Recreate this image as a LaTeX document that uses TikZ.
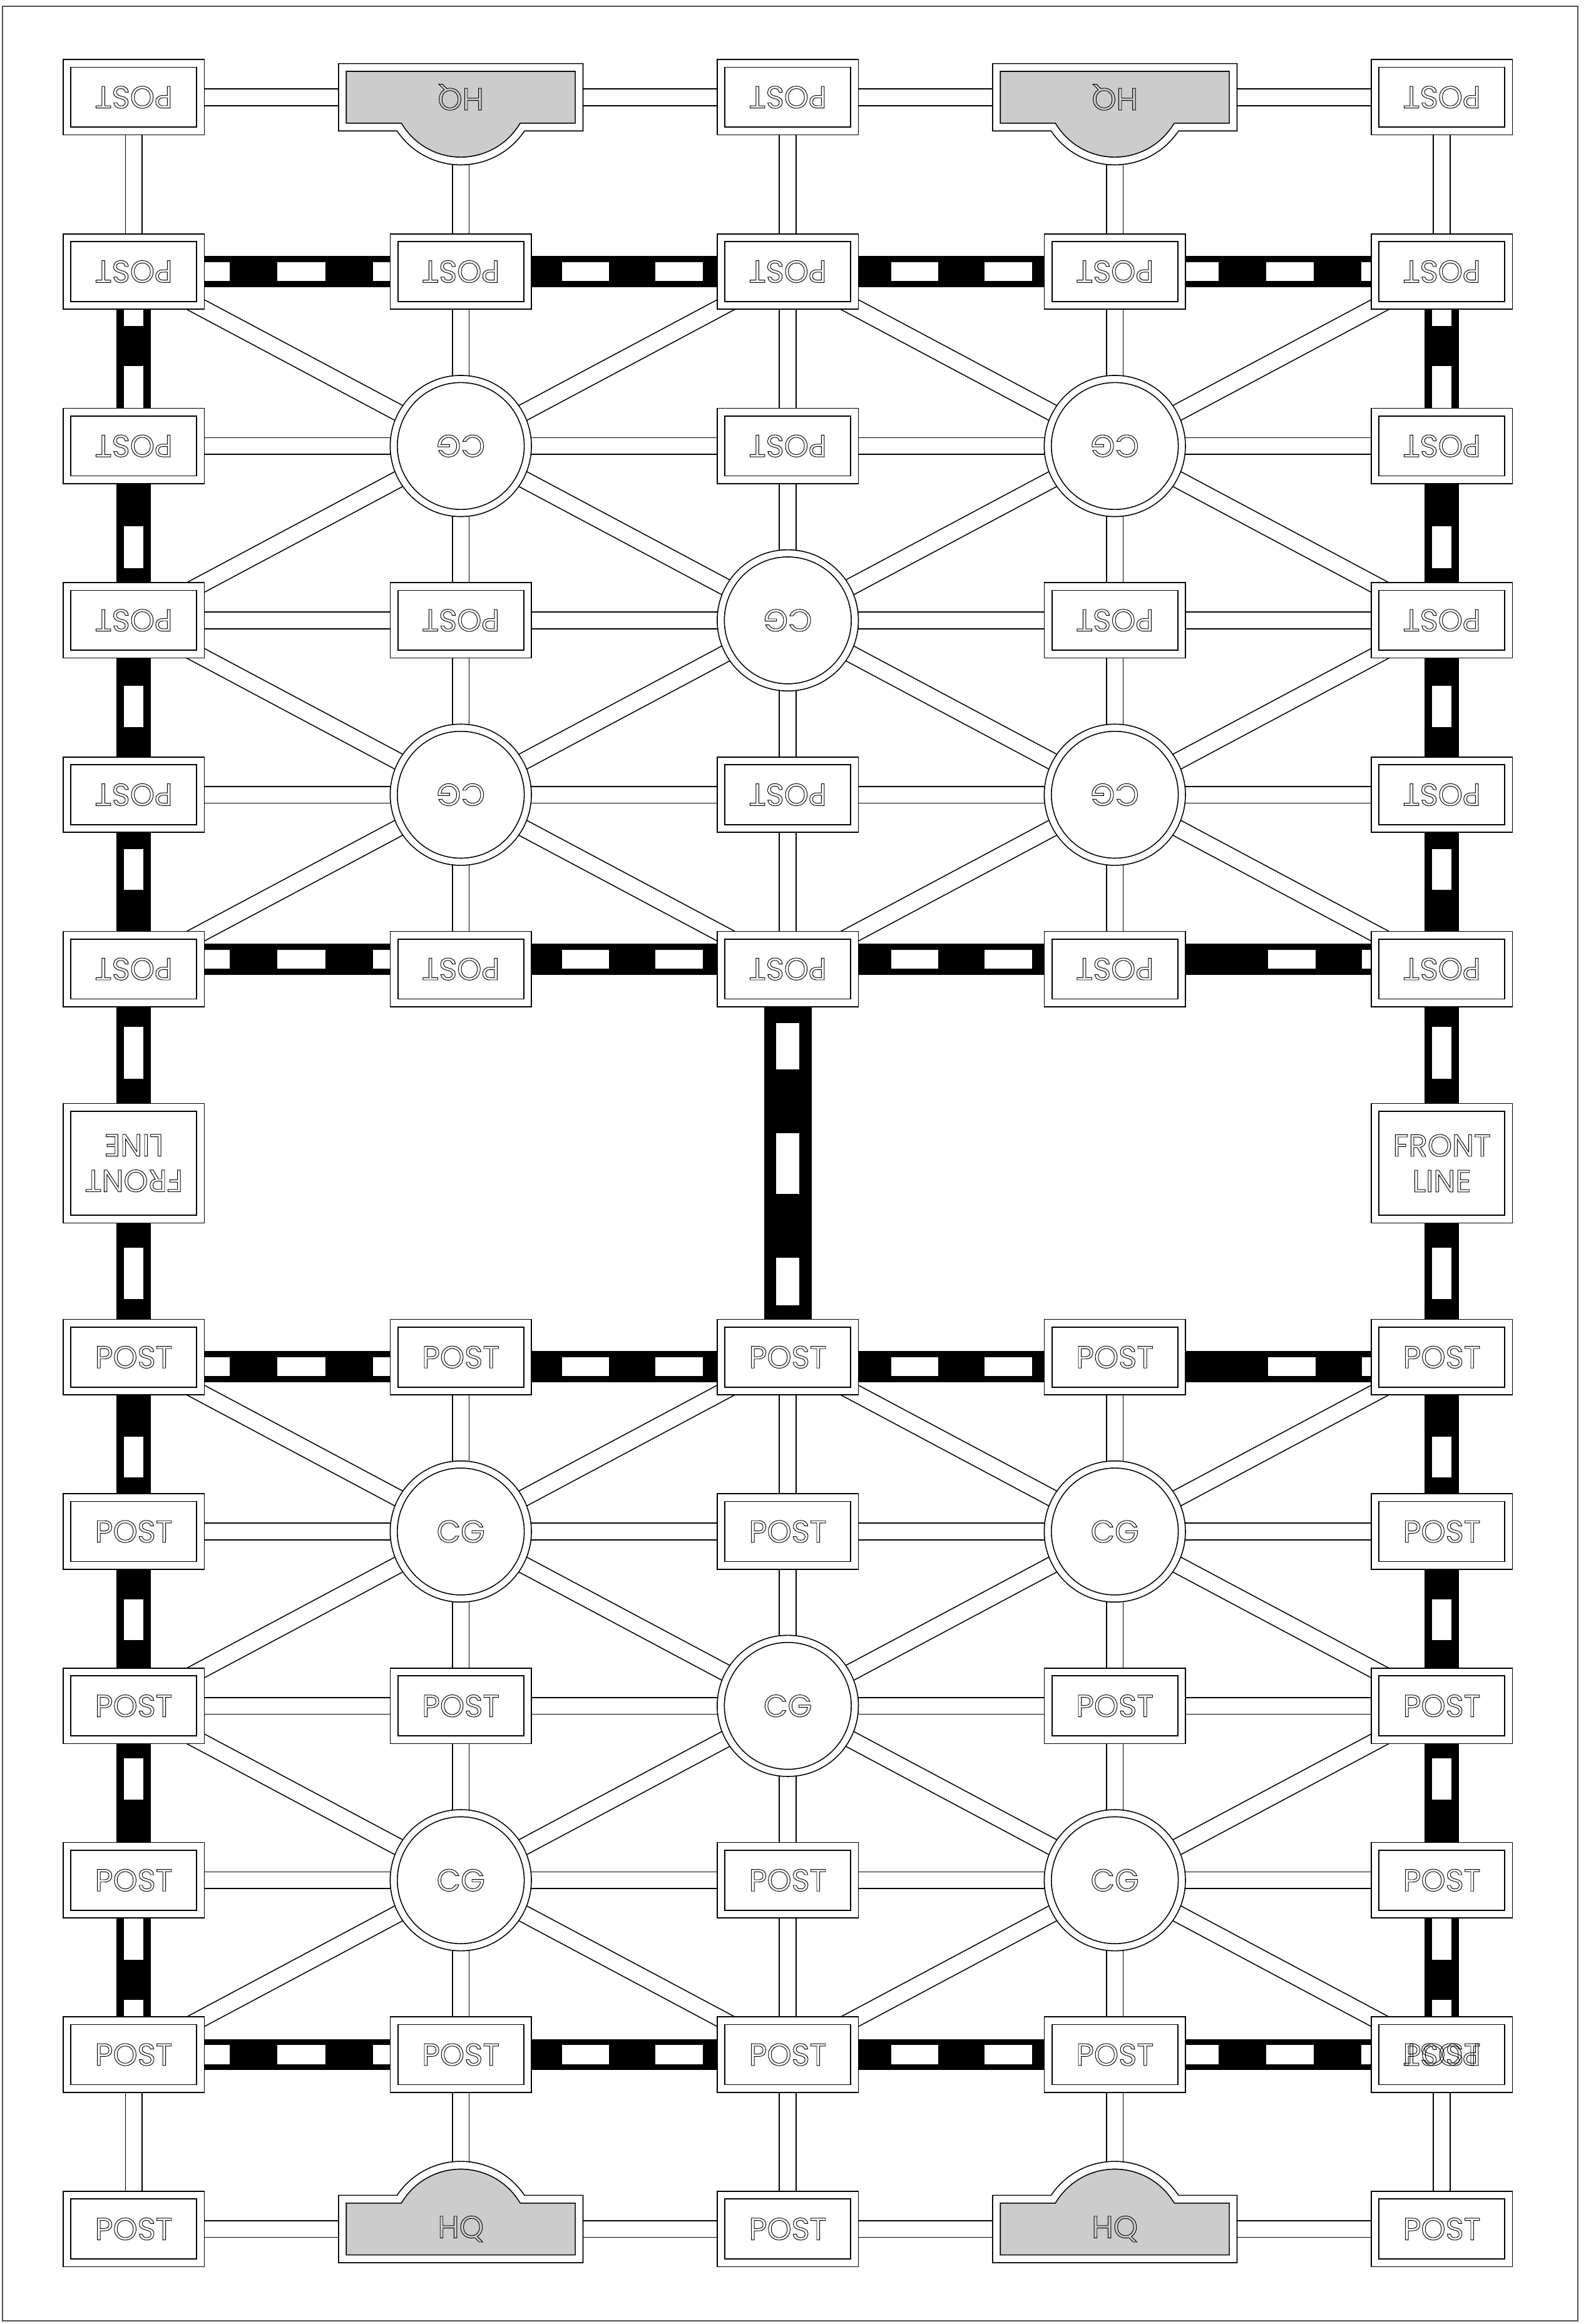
\documentclass[tikz,border=0pt]{standalone}
\usepackage{fontspec}
\setmainfont{Poppins}
\usepackage{graphicx}
\usetikzlibrary{backgrounds}
\newcommand{\hollow}[1]{\special{pdf:literal direct 1 Tr 0.4 w}#1\special{pdf:literal direct 0 Tr}}
\newcommand{\boardfont}{\fontsize{21}{24}\selectfont}
\tikzstyle{postbox}=[rectangle, draw, line width=0.7pt, double=white, double distance=4.5pt, fill=white, minimum width=90pt, minimum height=45.6pt, inner sep=0pt, font=\boardfont]
\tikzstyle{cgbox}=[circle, draw, line width=0.7pt, double=white, double distance=4.1pt, fill=white, minimum size=90.4pt, inner sep=0pt, font=\boardfont]
\tikzstyle{frontbox}=[postbox, minimum height=75.4pt, align=center]
\tikzstyle{flip}=[rotate=180]
\tikzstyle{hqfill}=[draw, line width=0.7pt, double=white, double distance=4.5pt, fill=black!20]
\tikzstyle{road}=[draw, line width=0.7pt, double=white, double distance=10.6pt]
\tikzstyle{railh}=[draw, line width=21pt]
\tikzstyle{tieh}=[draw=white, line width=12.7pt]
\tikzstyle{railv}=[draw, line width=23pt]
\tikzstyle{tiev}=[draw=white, line width=13pt]
\tikzstyle{railm}=[draw, line width=32pt]
\tikzstyle{tiem}=[draw=white, line width=15.5pt]
\newcommand{\hqbox}[4]{%
  \filldraw[hqfill] ({#2-79.8},{#3-(#4)*20.1}) -- ({#2+79.8},{#3-(#4)*20.1}) -- ({#2+79.8},{#3+(#4)*20.1}) -- ({#2+41.5},{#3+(#4)*20.1}) arc[start angle={-(#4)*32.27}, end angle={-(#4)*147.73}, radius=49.1pt] -- ({#2-79.8},{#3+(#4)*20.1}) -- cycle;
  \node[font=\boardfont, inner sep=0pt, rotate={90+90*(#4)}] (#1) at (#2,#3) {\hollow{HQ}};
}

\begin{document}
\begin{tikzpicture}[x=1pt, y=-1pt]
\useasboundingbox (0,0) rectangle (1069,1567.4);
\draw[line width=0.8pt, black!70] (1.5,4.2) rectangle (1064,1565.4);

\node[postbox, flip] (a00) at (90.2,65.6) {\hollow{POST}};
\hqbox{a01}{310.7}{65.6}{1}
\node[postbox, flip] (a02) at (531.2,65.6) {\hollow{POST}};
\hqbox{a03}{751.7}{65.6}{1}
\node[postbox, flip] (a04) at (972.2,65.6) {\hollow{POST}};

\node[postbox, flip] (a10) at (90.2,183.2) {\hollow{POST}};
\node[postbox, flip] (a11) at (310.7,183.2) {\hollow{POST}};
\node[postbox, flip] (a12) at (531.2,183.2) {\hollow{POST}};
\node[postbox, flip] (a13) at (751.7,183.2) {\hollow{POST}};
\node[postbox, flip] (a14) at (972.2,183.2) {\hollow{POST}};

\node[postbox, flip] (a20) at (90.2,300.8) {\hollow{POST}};
\node[cgbox, flip] (a21) at (310.7,300.8) {\hollow{CG}};
\node[postbox, flip] (a22) at (531.2,300.8) {\hollow{POST}};
\node[cgbox, flip] (a23) at (751.7,300.8) {\hollow{CG}};
\node[postbox, flip] (a24) at (972.2,300.8) {\hollow{POST}};

\node[postbox, flip] (a30) at (90.2,418.4) {\hollow{POST}};
\node[postbox, flip] (a31) at (310.7,418.4) {\hollow{POST}};
\node[cgbox, flip] (a32) at (531.2,418.4) {\hollow{CG}};
\node[postbox, flip] (a33) at (751.7,418.4) {\hollow{POST}};
\node[postbox, flip] (a34) at (972.2,418.4) {\hollow{POST}};

\node[postbox, flip] (a40) at (90.2,536) {\hollow{POST}};
\node[cgbox, flip] (a41) at (310.7,536) {\hollow{CG}};
\node[postbox, flip] (a42) at (531.2,536) {\hollow{POST}};
\node[cgbox, flip] (a43) at (751.7,536) {\hollow{CG}};
\node[postbox, flip] (a44) at (972.2,536) {\hollow{POST}};

\node[postbox, flip] (a50) at (90.2,653.6) {\hollow{POST}};
\node[postbox, flip] (a51) at (310.7,653.6) {\hollow{POST}};
\node[postbox, flip] (a52) at (531.2,653.6) {\hollow{POST}};
\node[postbox, flip] (a53) at (751.7,653.6) {\hollow{POST}};
\node[postbox, flip] (a54) at (972.2,653.6) {\hollow{POST}};

\node[frontbox, flip] (fl0) at (90.2,784.5) {\hollow{FRONT}\\\hollow{LINE}};
\node[frontbox] (fl4) at (972.2,784.5) {\hollow{FRONT}\\\hollow{LINE}};

\node[postbox] (b50) at (90.2,915.3) {\hollow{POST}};
\node[postbox] (b51) at (310.7,915.3) {\hollow{POST}};
\node[postbox] (b52) at (531.2,915.3) {\hollow{POST}};
\node[postbox] (b53) at (751.7,915.3) {\hollow{POST}};
\node[postbox] (b54) at (972.2,915.3) {\hollow{POST}};

\node[postbox] (b40) at (90.2,1032.9) {\hollow{POST}};
\node[cgbox] (b41) at (310.7,1032.9) {\hollow{CG}};
\node[postbox] (b42) at (531.2,1032.9) {\hollow{POST}};
\node[cgbox] (b43) at (751.7,1032.9) {\hollow{CG}};
\node[postbox] (b44) at (972.2,1032.9) {\hollow{POST}};

\node[postbox] (b30) at (90.2,1150.5) {\hollow{POST}};
\node[postbox] (b31) at (310.7,1150.5) {\hollow{POST}};
\node[cgbox] (b32) at (531.2,1150.5) {\hollow{CG}};
\node[postbox] (b33) at (751.7,1150.5) {\hollow{POST}};
\node[postbox] (b34) at (972.2,1150.5) {\hollow{POST}};

\node[postbox] (b20) at (90.2,1268.1) {\hollow{POST}};
\node[cgbox] (b21) at (310.7,1268.1) {\hollow{CG}};
\node[postbox] (b22) at (531.2,1268.1) {\hollow{POST}};
\node[cgbox] (b23) at (751.7,1268.1) {\hollow{CG}};
\node[postbox] (b24) at (972.2,1268.1) {\hollow{POST}};

\node[postbox] (b10) at (90.2,1385.7) {\hollow{POST}};
\node[postbox] (b11) at (310.7,1385.7) {\hollow{POST}};
\node[postbox] (b12) at (531.2,1385.7) {\hollow{POST}};
\node[postbox] (b13) at (751.7,1385.7) {\hollow{POST}};
\node[postbox, label={[flip, font=\boardfont, inner sep=0pt]center:\hollow{POST}}] (b14) at (972.2,1385.7) {\hollow{POST}};

\node[postbox] (b00) at (90.2,1503.3) {\hollow{POST}};
\hqbox{b01}{310.7}{1503.3}{-1}
\node[postbox] (b02) at (531.2,1503.3) {\hollow{POST}};
\hqbox{b03}{751.7}{1503.3}{-1}
\node[postbox] (b04) at (972.2,1503.3) {\hollow{POST}};

\begin{scope}[on background layer]
\foreach \s in {a,b}{
  \foreach \p/\q in {00/01,01/02,02/03,03/04, 00/10,01/11,02/12,03/13,04/14,
      11/21,21/31,31/41,41/51, 12/22,22/32,32/42,42/52, 13/23,23/33,33/43,43/53,
      20/21,21/22,22/23,23/24, 30/31,31/32,32/33,33/34, 40/41,41/42,42/43,43/44,
      10/21,21/32,32/43,43/54, 14/23,23/32,32/41,41/50,
      30/21,21/12,12/23,23/34, 30/41,41/52,52/43,43/34}
    \draw[road] (\s\p.center) -- (\s\q.center);
  \draw[railh] (\s10.center) -- (\s14.center);
  \draw[tieh, dash pattern=on 32.5pt off 32.25pt, dash phase=32.75pt] (\s10.center) -- (\s11.center);
  \draw[tieh, dash pattern=on 32pt off 31pt, dash phase=57.9pt] (\s11.center) -- (\s12.center);
  \draw[tieh, dash pattern=on 32pt off 31pt, dash phase=56.4pt] (\s12.center) -- (\s13.center);
  \draw[tieh, dash pattern=on 32.3pt off 32.1pt, dash phase=26.9pt] (\s13.center) -- (\s14.center);
  \foreach \c in {0,4}{
    \draw[railv] (\s1\c.center) -- (fl\c.center);
    \draw[tiev, dash pattern=on 33pt off 27pt, dash phase=56.2pt] (\s1\c.center) -- (\s2\c.center);
    \draw[tiev, dash pattern=on 28pt off 500pt, dash phase=473.8pt] (\s2\c.center) -- (\s3\c.center);
    \draw[tiev, dash pattern=on 27.5pt off 500pt, dash phase=483.2pt] (\s3\c.center) -- (\s4\c.center);
    \draw[tiev, dash pattern=on 27.5pt off 500pt, dash phase=491pt] (\s4\c.center) -- (\s5\c.center);
    \draw[tiev, dash pattern=on 35pt off 500pt, dash phase=496pt] (\s5\c.center) -- (fl\c.center);
  }
}
\foreach \s/\sh in {a/6.5,b/-6.5}{
  \begin{scope}[transform canvas={yshift=\sh pt}]
  \draw[railh] (\s50.center) -- (\s54.center);
  \draw[tieh, dash pattern=on 32.5pt off 32.25pt, dash phase=32.75pt] (\s50.center) -- (\s51.center);
  \draw[tieh, dash pattern=on 32pt off 31pt, dash phase=57.9pt] (\s51.center) -- (\s52.center);
  \draw[tieh, dash pattern=on 32pt off 31pt, dash phase=56.4pt] (\s52.center) -- (\s53.center);
  \draw[tieh, dash pattern=on 32pt off 31.3pt on 32pt off 300pt, dash phase=292.1pt] (\s53.center) -- (\s54.center);
  \end{scope}
}
\draw[railm] (a52.center) -- (b52.center);
\draw[tiem, dash pattern=on 31.3pt off 43.1pt on 40.9pt off 43.1pt on 32pt off 500pt, dash phase=654pt] (a52.center) -- (b52.center);
\end{scope}
\end{tikzpicture}
\end{document}
